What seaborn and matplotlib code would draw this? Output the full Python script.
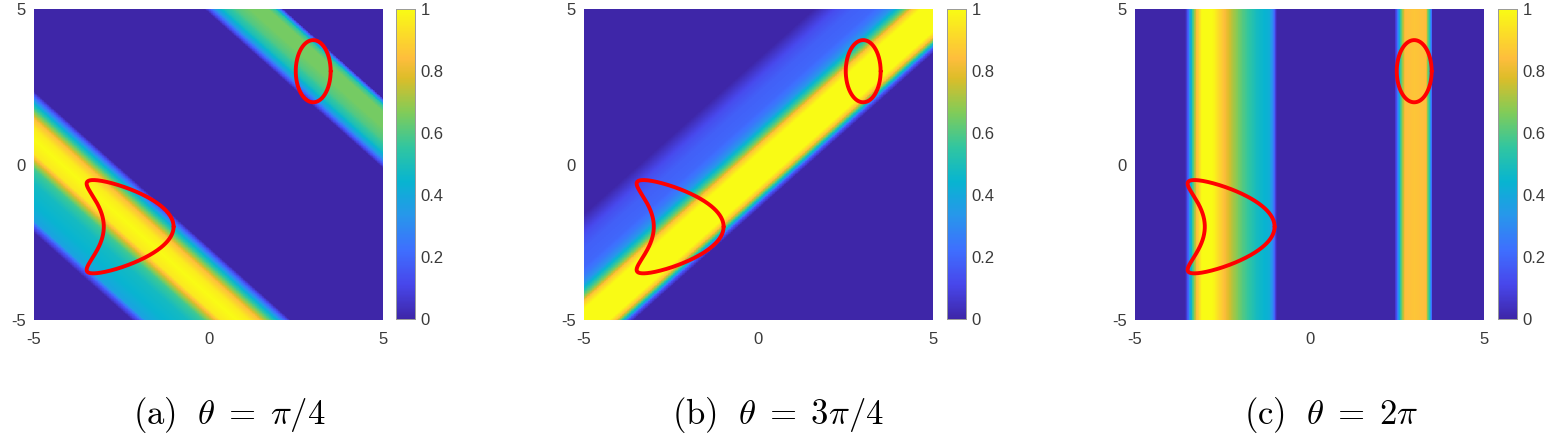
import numpy as np
import pandas as pd
import matplotlib
matplotlib.use("Agg")
import matplotlib.pyplot as plt
import seaborn as sns
from matplotlib.colors import LinearSegmentedColormap

# ------------- DATA -------------
# grid extent of every panel
EXTENT = [-5, 5]
TICKS = [-5, 0, 5]
CBAR_TICKS = [0, 0.2, 0.4, 0.6, 0.8, 1]
CAPTIONS = [r"$\mathrm{(a)}\ \ \theta\;=\;\pi/4$",
            r"$\mathrm{(b)}\ \ \theta\;=\;3\pi/4$",
            r"$\mathrm{(c)}\ \ \theta\;=\;2\pi$"]

# scatterers: kite and ellipse
KITE_CENTER = [-2.0, -2.0]
KITE_SHAPE = [1.0, 0.65, 1.5]      # cos t + 0.65 cos 2t - 0.65, 1.5 sin t
ELLIPSE_CENTER = [3.0, 3.0]
ELLIPSE_AXES = [0.5, 1.0]

# (a) theta = pi/4, profiles across the stripes in u = x + y
A_KITE_U = [-7.2, -7.0, -6.8, -6.3, -5.6, -5.15, -4.9, -4.65, -4.2, -3.85, -3.55, -3.3, -3.05, -2.82, -2.65]
A_KITE_VAL = [0.0, 0.15, 0.38, 0.44, 0.48, 0.58, 0.75, 0.95, 1.0, 0.96, 0.85, 0.65, 0.45, 0.2, 0.0]
A_ELL_U = [4.88, 5.02, 5.2, 5.45, 5.8, 6.2, 6.7, 6.9, 7.02, 7.14]
A_ELL_VAL = [0.0, 0.15, 0.35, 0.5, 0.6, 0.65, 0.65, 0.55, 0.3, 0.0]

# (b) theta = 3pi/4, one stripe in v = y - x
B_V = [-1.42, -1.27, -1.14, -1.02, -0.9, -0.72, 0.35, 0.58, 0.78, 0.98, 1.2, 1.45, 1.7, 2.3, 2.75, 3.1, 3.4]
B_VAL = [0.0, 0.15, 0.45, 0.68, 0.86, 1.0, 1.0, 0.88, 0.66, 0.5, 0.33, 0.25, 0.2, 0.18, 0.13, 0.06, 0.0]

# (c) theta = 2pi, vertical stripes in x
C_KITE_X = [-3.56, -3.47, -3.36, -3.22, -3.08, -2.78, -2.5, -2.2, -1.9, -1.5, -1.15, -1.03, -0.94]
C_KITE_VAL = [0.0, 0.2, 0.55, 0.85, 1.0, 1.0, 0.87, 0.72, 0.6, 0.48, 0.42, 0.25, 0.0]
C_ELL_X = [2.44, 2.52, 2.62, 2.74, 3.0, 3.34, 3.44, 3.53]
C_ELL_VAL = [0.0, 0.2, 0.6, 0.84, 0.86, 0.84, 0.5, 0.0]

# ------------- STYLE -------------
# parula anchors: (position, rgb)
PARULA = [(0 / 63, (0.2422, 0.1504, 0.6603)), (7 / 63, (0.2803, 0.2782, 0.9221)),
          (14 / 63, (0.2440, 0.4358, 0.9988)), (21 / 63, (0.1540, 0.5902, 0.9218)),
          (28 / 63, (0.0297, 0.7082, 0.8163)), (35 / 63, (0.1938, 0.7758, 0.6251)),
          (42 / 63, (0.5044, 0.7993, 0.3480)), (49 / 63, (0.8634, 0.7406, 0.1596)),
          (53 / 63, (0.9956, 0.7434, 0.2371)), (56 / 63, (0.9892, 0.8136, 0.1885)),
          (63 / 63, (0.9769, 0.9839, 0.0805))]
parula = LinearSegmentedColormap.from_list("parula", PARULA, N=256)
TEXT = "#3a3a3a"

sns.set_style("white")
plt.rcParams["font.family"] = ["Liberation Sans", "DejaVu Sans"]
plt.rcParams["mathtext.fontset"] = "cm"

N = 500
W, H = 1550, 444

# pixel boxes: (axes left, axes right, cbar left, cbar right)
BOXES = [(34, 383, 396, 415), (584, 933, 947, 966), (1135, 1484, 1498, 1517)]
TOP, BOTTOM = 9, 320
CAP_X = [229, 778, 1331]


def field(coord, profiles):
    z = np.zeros_like(coord)
    for s, v in profiles:
        z += np.interp(coord, s, v, left=0, right=0)
    return z


def to_cell(x, y):
    col = (np.asarray(x) - EXTENT[0]) / (EXTENT[1] - EXTENT[0]) * N
    row = (EXTENT[1] - np.asarray(y)) / (EXTENT[1] - EXTENT[0]) * N
    return col, row


xc = EXTENT[0] + (np.arange(N) + 0.5) * (EXTENT[1] - EXTENT[0]) / N
yc = EXTENT[1] - (np.arange(N) + 0.5) * (EXTENT[1] - EXTENT[0]) / N
X, Y = np.meshgrid(xc, yc)

fields = [
    field(X + Y, [(A_KITE_U, A_KITE_VAL), (A_ELL_U, A_ELL_VAL)]),
    field(Y - X, [(B_V, B_VAL)]),
    field(X, [(C_KITE_X, C_KITE_VAL), (C_ELL_X, C_ELL_VAL)]),
]

t = np.linspace(0, 2 * np.pi, 500)
kite_x = KITE_CENTER[0] + KITE_SHAPE[0] * np.cos(t) + KITE_SHAPE[1] * np.cos(2 * t) - KITE_SHAPE[1]
kite_y = KITE_CENTER[1] + KITE_SHAPE[2] * np.sin(t)
ell_x = ELLIPSE_CENTER[0] + ELLIPSE_AXES[0] * np.cos(t)
ell_y = ELLIPSE_CENTER[1] + ELLIPSE_AXES[1] * np.sin(t)

fig = plt.figure(figsize=(W / 100, H / 100), dpi=100)

for i, (Z, box) in enumerate(zip(fields, BOXES)):
    al, ar, cl, cr = box
    ax = fig.add_axes([al / W, 1 - BOTTOM / H, (ar - al) / W, (BOTTOM - TOP) / H])
    cax = fig.add_axes([cl / W, 1 - (BOTTOM - 1) / H, (cr - cl) / W, (BOTTOM - 1 - TOP) / H])
    sns.heatmap(pd.DataFrame(Z), ax=ax, cbar_ax=cax, cmap=parula, vmin=0, vmax=1,
                xticklabels=False, yticklabels=False, rasterized=True,
                cbar_kws={"ticks": CBAR_TICKS})

    for cx_, cy_ in [(kite_x, kite_y), (ell_x, ell_y)]:
        col, row = to_cell(cx_, cy_)
        ax.plot(col, row, color="#ff0000", lw=2.8, solid_capstyle="round")

    tc, tr = to_cell(TICKS, TICKS)
    ax.set_xticks(tc)
    ax.set_xticklabels([str(v) for v in TICKS])
    ax.set_yticks(tr)
    ax.set_yticklabels([str(v) for v in TICKS], rotation=0)
    ax.tick_params(axis="x", length=0, pad=9, labelsize=12, colors=TEXT)
    ax.tick_params(axis="y", length=0, pad=6, labelsize=12, colors=TEXT)
    ax.set_xlabel("")
    ax.set_ylabel("")

    cax.set_yticks(CBAR_TICKS)
    cax.set_yticklabels([f"{v:g}" for v in CBAR_TICKS])
    cax.tick_params(axis="y", direction="in", length=3, width=0.6, pad=4,
                    labelsize=12, colors=TEXT)
    for sp in cax.spines.values():
        sp.set_visible(True)
        sp.set_color("#9a9a9a")
        sp.set_linewidth(0.6)

    fig.text(CAP_X[i] / W, 1 - 415 / H, CAPTIONS[i], ha="center", va="center",
             fontsize=25, color="black")

fig.savefig("out.png", dpi=100)
